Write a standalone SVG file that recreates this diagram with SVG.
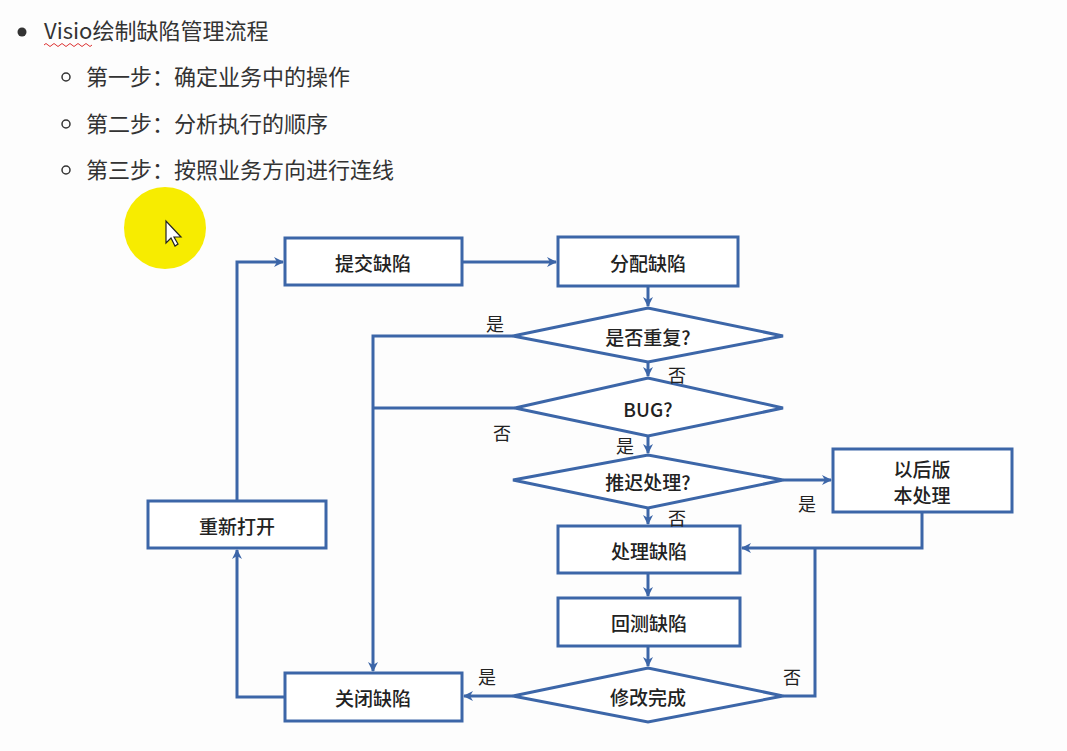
<svg xmlns="http://www.w3.org/2000/svg" width="1067" height="751" viewBox="0 0 1067 751">
<defs>
<marker id="ah" markerWidth="10" markerHeight="10" refX="9" refY="5" orient="auto" markerUnits="userSpaceOnUse"><path d="M0,0 L10,5 L0,10 L3,5 z" fill="#3c66a8"/></marker>
<style>
.n{fill:#fff;stroke:#3c66a8;stroke-width:3}
.t{font-family:"Noto Sans CJK SC","Liberation Sans",sans-serif;font-size:19px;font-weight:500;fill:#222;text-anchor:middle;dominant-baseline:central}
.l{font-family:"Noto Sans CJK SC",sans-serif;font-size:18px;fill:#222;text-anchor:middle;dominant-baseline:central}
.c{fill:none;stroke:#3c66a8;stroke-width:3}
.h{font-family:"Noto Sans CJK SC","Open Sans",sans-serif;font-size:22px;fill:#333}
</style>
</defs>
<rect width="1067" height="751" fill="#fdfdfd"/>
<g id="header">
<circle cx="22" cy="32" r="4.5" fill="#333"/>
<text class="h" x="44" y="39">Visio绘制缺陷管理流程</text>
<path d="M44,45 q2,-3 4,0 t4,0 t4,0 t4,0 t4,0 t4,0 t4,0 t4,0 t4,0 t4,0 t4,0 t4,0" fill="none" stroke="#d33" stroke-width="1"/>
<circle cx="66" cy="77" r="4" fill="none" stroke="#333" stroke-width="1.5"/>
<text class="h" x="86" y="85">第一步：确定业务中的操作</text>
<circle cx="66" cy="124" r="4" fill="none" stroke="#333" stroke-width="1.5"/>
<text class="h" x="86" y="132">第二步：分析执行的顺序</text>
<circle cx="66" cy="170" r="4" fill="none" stroke="#333" stroke-width="1.5"/>
<text class="h" x="86" y="178">第三步：按照业务方向进行连线</text>
</g>
<g id="cursor">
<circle cx="165" cy="228" r="41" fill="#f7ec00"/>
<path d="M166,221 L166,243 L171,238 L175,246 L178,244 L174,237 L181,237 Z" fill="#fff" stroke="#222" stroke-width="1.2"/>
</g>
<g id="connectors">
<path class="c" d="M462,262 H556" marker-end="url(#ah)"/>
<path class="c" d="M648,286 V306" marker-end="url(#ah)"/>
<path class="c" d="M648,362 V376" marker-end="url(#ah)"/>
<path class="c" d="M648,436 V453" marker-end="url(#ah)"/>
<path class="c" d="M648,508 V524" marker-end="url(#ah)"/>
<path class="c" d="M648,573 V596" marker-end="url(#ah)"/>
<path class="c" d="M648,646 V666" marker-end="url(#ah)"/>
<path class="c" d="M513,336 H373 V671" marker-end="url(#ah)"/>
<path class="c" d="M515,408 H373"/>
<path class="c" d="M783,480 H831" marker-end="url(#ah)"/>
<path class="c" d="M922,512 V548 H742" marker-end="url(#ah)"/>
<path class="c" d="M783,696 H815 V548"/>
<path class="c" d="M513,696 H464" marker-end="url(#ah)"/>
<path class="c" d="M285,697 H237 V550" marker-end="url(#ah)"/>
<path class="c" d="M237,501 V262 H283" marker-end="url(#ah)"/>
</g>
<g id="n1"><rect class="n" x="285" y="238" width="177" height="47"/><text class="t" x="373" y="262">提交缺陷</text></g>
<g id="n2"><rect class="n" x="558" y="237" width="180" height="49"/><text class="t" x="648" y="262">分配缺陷</text></g>
<g id="d1"><polygon class="n" points="513,336 648,308 783,336 648,362"/><text class="t" x="648" y="336">是否重复?</text></g>
<g id="d2"><polygon class="n" points="515,408 648,378 783,408 648,436"/><text class="t" x="648" y="408">BUG?</text></g>
<g id="d3"><polygon class="n" points="513,480 648,455 783,480 648,508"/><text class="t" x="648" y="481">推迟处理?</text></g>
<g id="n3"><rect class="n" x="833" y="449" width="179" height="63"/><text class="t" x="922" y="468">以后版</text><text class="t" x="922" y="494">本处理</text></g>
<g id="n4"><rect class="n" x="558" y="526" width="182" height="47"/><text class="t" x="649" y="550">处理缺陷</text></g>
<g id="n5"><rect class="n" x="558" y="598" width="182" height="48"/><text class="t" x="649" y="622">回测缺陷</text></g>
<g id="d4"><polygon class="n" points="513,696 648,668 783,696 648,722"/><text class="t" x="648" y="696">修改完成</text></g>
<g id="n6"><rect class="n" x="285" y="673" width="177" height="48"/><text class="t" x="373" y="697">关闭缺陷</text></g>
<g id="n7"><rect class="n" x="148" y="501" width="178" height="47"/><text class="t" x="237" y="525">重新打开</text></g>
<g id="labels">
<text class="l" x="495" y="323">是</text>
<text class="l" x="677" y="374">否</text>
<text class="l" x="502" y="432">否</text>
<text class="l" x="625" y="445">是</text>
<text class="l" x="807" y="503">是</text>
<text class="l" x="677" y="517">否</text>
<text class="l" x="487" y="676">是</text>
<text class="l" x="792" y="676">否</text>
</g>
</svg>
